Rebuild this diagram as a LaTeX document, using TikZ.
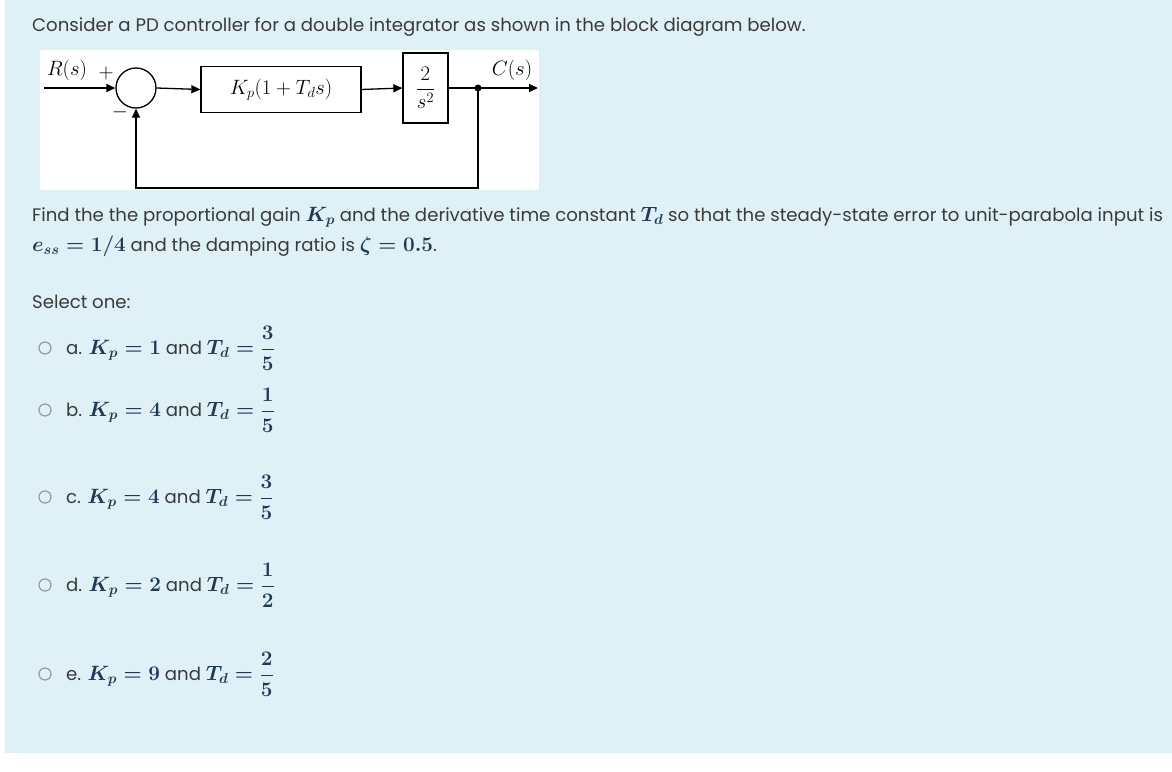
\documentclass[tikz,border=0pt]{standalone}
\usepackage{amsmath}
\usepackage{fontspec}
\setmainfont{Poppins}[Scale=0.93]
\usetikzlibrary{arrows.meta}
\definecolor{bgb}{HTML}{DFF1F7}
\definecolor{txt}{HTML}{3A3A3A}
\definecolor{mth}{HTML}{203A55}
\newcommand{\mm}[1]{\textcolor{mth}{\boldmath$#1$}}
\begin{document}
\begin{tikzpicture}[x=1pt,y=-1pt,
  txtn/.style={anchor=west,inner sep=0,text=txt,font=\fontsize{19.5}{22}\selectfont},
  blk/.style={draw,line width=1.3pt,inner sep=0},
  sig/.style={line width=1.3pt,-{Triangle[length=9pt,width=8pt]}},
  wire/.style={line width=1.3pt},
  lab/.style={inner sep=0,font=\rmfamily\fontsize{20}{22}\selectfont},
  radio/.style={circle,draw=gray!80,line width=1.2pt,minimum size=12pt,inner sep=0}]
\useasboundingbox (0,0) rectangle (1172,771);
\fill[white] (0,0) rectangle (1172,771);
\fill[bgb] (5,0) rectangle (1172,753);
\fill[white] (40,50) rectangle (539,190);
\node[txtn] (t1) at (32,27) {Consider a PD controller for a double integrator as shown in the block diagram below.};
% diagram
\coordinate (in) at (44,88);
\node[circle,draw,line width=1.3pt,minimum size=40pt,inner sep=0] (sum) at (136,88) {};
\node[blk,minimum width=160pt,minimum height=46pt] (ctl) at (281,89.5) {\rmfamily\fontsize{21}{24}\selectfont $K_p(1+T_d s)$};
\node[blk,minimum width=45pt,minimum height=70pt] (pl) at (425.5,88) {\rmfamily\fontsize{21}{24}\selectfont $\dfrac{2}{s^2}$};
\fill (478,88) circle (3.5pt);
\coordinate (dot) at (478,88);
\coordinate (out) at (538,88);
\coordinate (fb) at (478,188);
\coordinate (fb2) at (136,188);
\draw[sig] (in) -- (sum.west);
\draw[sig] (sum.east) -- (ctl.west);
\draw[sig] (ctl.east) -- (pl.west);
\draw[wire] (pl.east) -- (dot);
\draw[sig] (dot) -- (out);
\draw[sig] (dot) -- (fb) -- (fb2) -- (sum.south);
\node[lab] (R) at (67,70) {$R(s)$};
\node[lab] (plus) at (106,73) {$+$};
\node[lab] (minus) at (120,112) {$-$};
\node[lab] (C) at (512,70) {$C(s)$};
% question
\node[txtn] (t2) at (32,217) {Find the the proportional gain \mm{K_p} and the derivative time constant \mm{T_d} so that the steady-state error to unit-parabola input is};
\node[txtn] (t3) at (32,246) {\mm{e_{ss}=1/4} and the damping ratio is \mm{\zeta=0.5}.};
\node[txtn] (t4) at (32,302) {Select one:};
\foreach \nm/\y/\l/\k/\n/\d in {oa/348/a/1/3/5, ob/410/b/4/1/5, oc/497/c/4/3/5, od/585/d/2/1/2, oe/674/e/9/2/5}{
  \node[radio] (r\nm) at (45,\y) {};
  \node[txtn] (\nm) at (66,\y) {\l. \mm{K_p=\k} and \mm{T_d=\dfrac{\n}{\d}}};
}
\end{tikzpicture}
\end{document}
